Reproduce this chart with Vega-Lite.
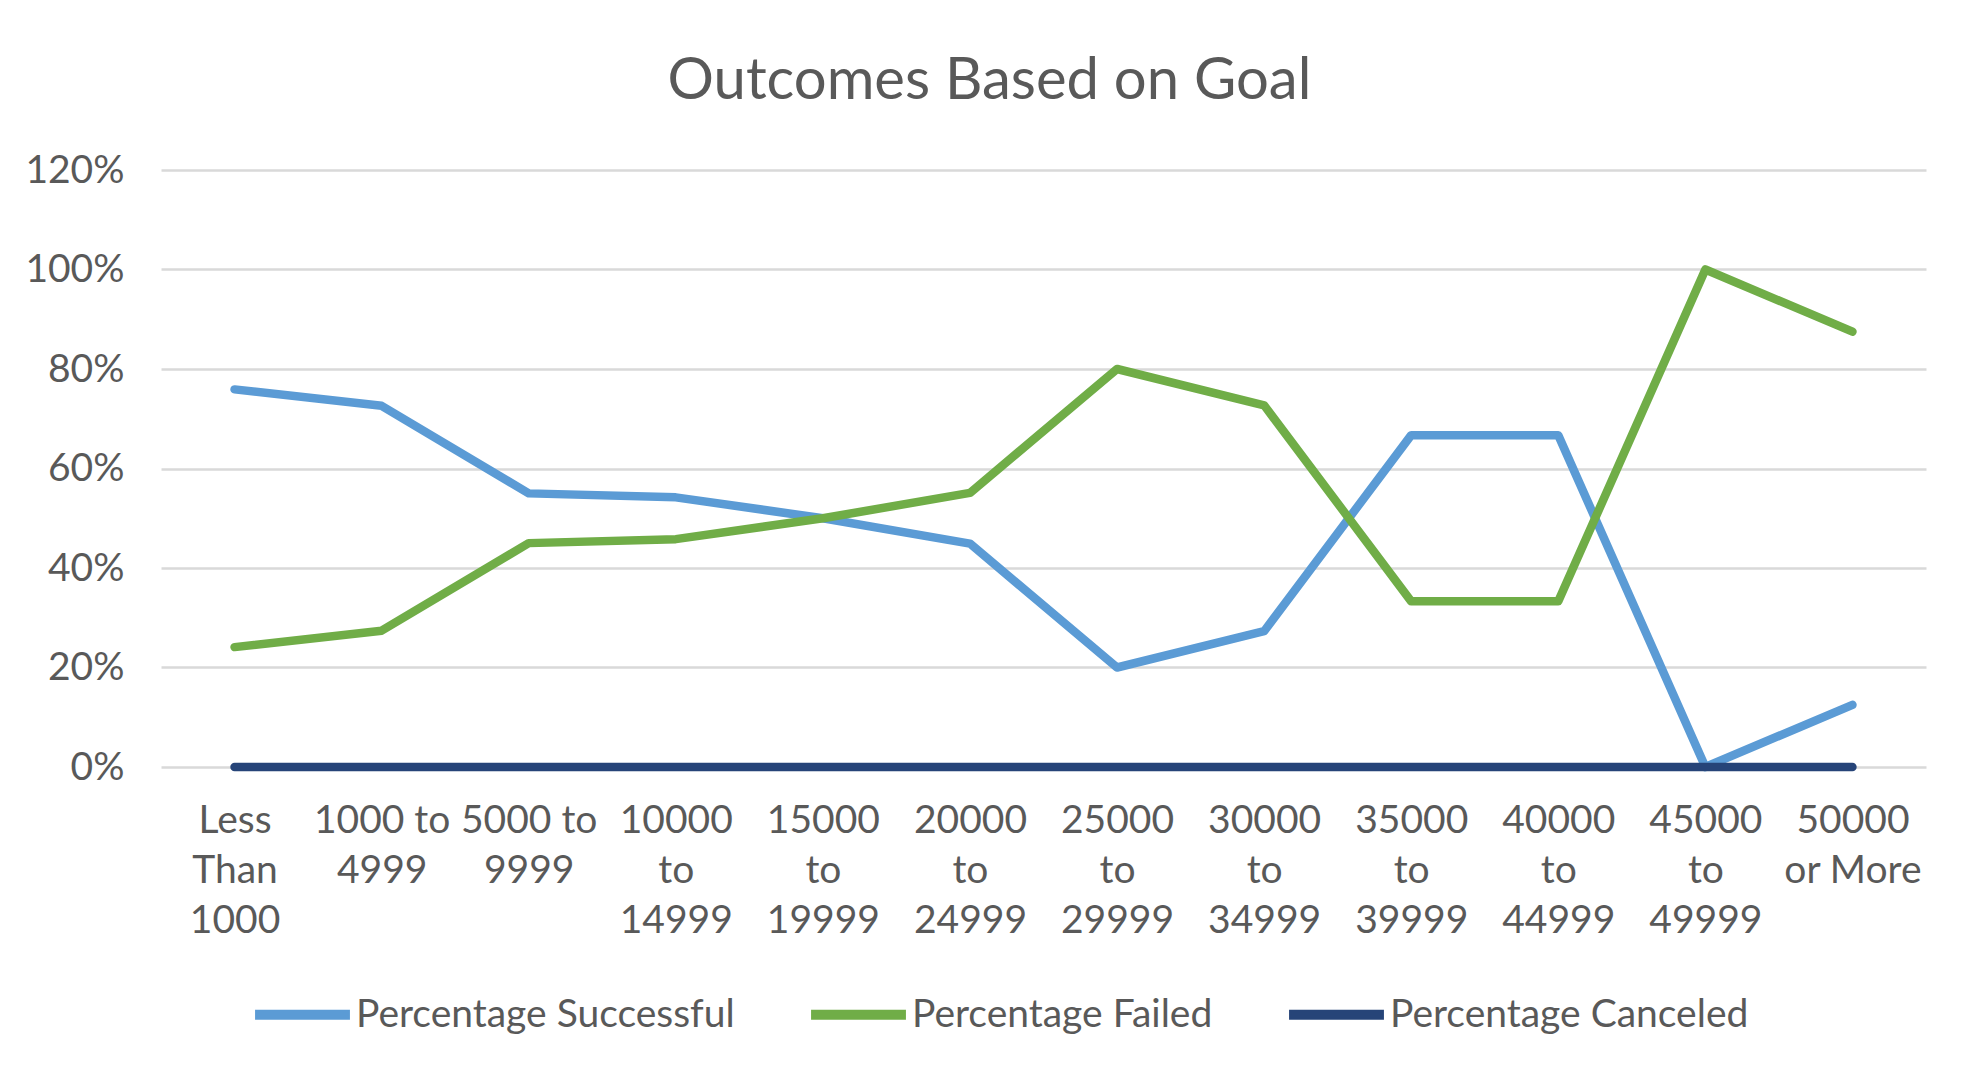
{
  "$schema": "https://vega.github.io/schema/vega-lite/v6.json",
  "width": 1765,
  "height": 597,
  "autosize": {"type": "none"},
  "padding": {"left": 161, "top": 170, "right": 52, "bottom": 314},
  "background": "white",
  "title": {
    "text": "Outcomes Based on Goal",
    "font": "Lato",
    "fontSize": 58,
    "fontWeight": "normal",
    "color": "#595959",
    "anchor": "middle",
    "dx": -54,
    "offset": 40
  },
  "data": {
    "values": [
      {"goal": "Less Than 1000", "outcome": "Percentage Successful", "pct": 0.759},
      {"goal": "1000 to 4999", "outcome": "Percentage Successful", "pct": 0.726},
      {"goal": "5000 to 9999", "outcome": "Percentage Successful", "pct": 0.550},
      {"goal": "10000 to 14999", "outcome": "Percentage Successful", "pct": 0.542},
      {"goal": "15000 to 19999", "outcome": "Percentage Successful", "pct": 0.500},
      {"goal": "20000 to 24999", "outcome": "Percentage Successful", "pct": 0.449},
      {"goal": "25000 to 29999", "outcome": "Percentage Successful", "pct": 0.200},
      {"goal": "30000 to 34999", "outcome": "Percentage Successful", "pct": 0.273},
      {"goal": "35000 to 39999", "outcome": "Percentage Successful", "pct": 0.667},
      {"goal": "40000 to 44999", "outcome": "Percentage Successful", "pct": 0.667},
      {"goal": "45000 to 49999", "outcome": "Percentage Successful", "pct": 0.0},
      {"goal": "50000 or More", "outcome": "Percentage Successful", "pct": 0.125},
      {"goal": "Less Than 1000", "outcome": "Percentage Failed", "pct": 0.241},
      {"goal": "1000 to 4999", "outcome": "Percentage Failed", "pct": 0.274},
      {"goal": "5000 to 9999", "outcome": "Percentage Failed", "pct": 0.450},
      {"goal": "10000 to 14999", "outcome": "Percentage Failed", "pct": 0.458},
      {"goal": "15000 to 19999", "outcome": "Percentage Failed", "pct": 0.500},
      {"goal": "20000 to 24999", "outcome": "Percentage Failed", "pct": 0.551},
      {"goal": "25000 to 29999", "outcome": "Percentage Failed", "pct": 0.800},
      {"goal": "30000 to 34999", "outcome": "Percentage Failed", "pct": 0.727},
      {"goal": "35000 to 39999", "outcome": "Percentage Failed", "pct": 0.333},
      {"goal": "40000 to 44999", "outcome": "Percentage Failed", "pct": 0.333},
      {"goal": "45000 to 49999", "outcome": "Percentage Failed", "pct": 1.0},
      {"goal": "50000 or More", "outcome": "Percentage Failed", "pct": 0.875},
      {"goal": "Less Than 1000", "outcome": "Percentage Canceled", "pct": 0.0},
      {"goal": "1000 to 4999", "outcome": "Percentage Canceled", "pct": 0.0},
      {"goal": "5000 to 9999", "outcome": "Percentage Canceled", "pct": 0.0},
      {"goal": "10000 to 14999", "outcome": "Percentage Canceled", "pct": 0.0},
      {"goal": "15000 to 19999", "outcome": "Percentage Canceled", "pct": 0.0},
      {"goal": "20000 to 24999", "outcome": "Percentage Canceled", "pct": 0.0},
      {"goal": "25000 to 29999", "outcome": "Percentage Canceled", "pct": 0.0},
      {"goal": "30000 to 34999", "outcome": "Percentage Canceled", "pct": 0.0},
      {"goal": "35000 to 39999", "outcome": "Percentage Canceled", "pct": 0.0},
      {"goal": "40000 to 44999", "outcome": "Percentage Canceled", "pct": 0.0},
      {"goal": "45000 to 49999", "outcome": "Percentage Canceled", "pct": 0.0},
      {"goal": "50000 or More", "outcome": "Percentage Canceled", "pct": 0.0}
    ]
  },
  "mark": {"type": "line", "strokeWidth": 8.5, "strokeCap": "round", "strokeJoin": "round"},
  "encoding": {
    "x": {
      "field": "goal",
      "type": "ordinal",
      "sort": null,
      "scale": {"type": "point", "padding": 0.5},
      "axis": {
        "title": null,
        "domain": false,
        "ticks": false,
        "grid": false,
        "labelAngle": 0,
        "labelFont": "Lato",
        "labelFontSize": 39,
        "labelColor": "#595959",
        "labelLineHeight": 50,
        "labelBaseline": "top",
        "labelPadding": 34,
        "labelOverlap": false,
        "labelExpr": "datum.value == 'Less Than 1000' ? ['Less', 'Than', '1000'] : datum.value == '50000 or More' ? ['50000', 'or More'] : length(datum.value) < 13 ? [slice(datum.value, 0, 7), slice(datum.value, 8)] : split(datum.value, ' ')"
      }
    },
    "y": {
      "field": "pct",
      "type": "quantitative",
      "scale": {"domain": [0, 1.2], "nice": false},
      "axis": {
        "title": null,
        "format": ".0%",
        "values": [0, 0.2, 0.4, 0.6, 0.8, 1.0, 1.2],
        "domain": false,
        "ticks": false,
        "gridColor": "#D9D9D9",
        "gridWidth": 2.5,
        "labelFont": "Lato",
        "labelFontSize": 39,
        "labelColor": "#595959",
        "labelPadding": 37
      }
    },
    "color": {
      "field": "outcome",
      "type": "nominal",
      "sort": ["Percentage Successful", "Percentage Failed", "Percentage Canceled"],
      "scale": {
        "domain": ["Percentage Successful", "Percentage Failed", "Percentage Canceled"],
        "range": ["#5B9BD5", "#70AD47", "#264478"]
      },
      "legend": {
        "title": null,
        "orient": "none",
        "direction": "horizontal",
        "legendX": 89,
        "legendY": 792,
        "symbolType": "stroke",
        "symbolSize": 9000,
        "symbolStrokeWidth": 10,
        "labelFont": "Lato",
        "labelFontSize": 39,
        "labelColor": "#595959",
        "labelLimit": 1000,
        "labelOffset": 1,
        "columnPadding": 56
      }
    }
  },
  "config": {"view": {"stroke": null}}
}
